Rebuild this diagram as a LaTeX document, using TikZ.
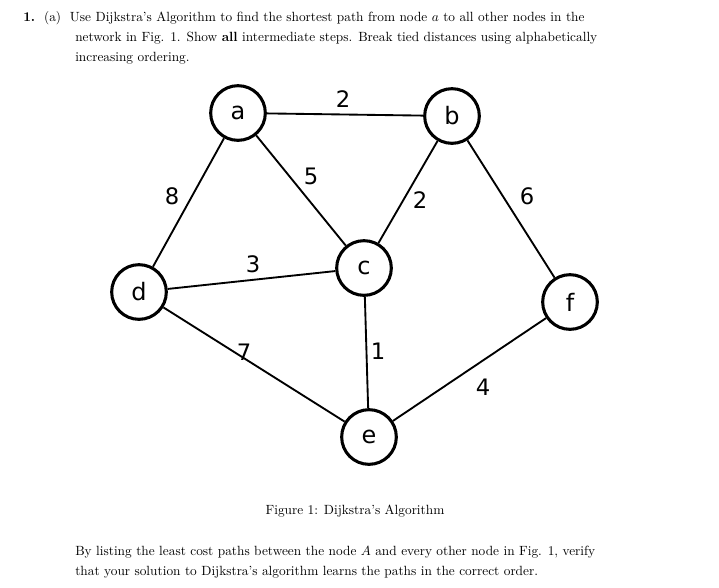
\documentclass[tikz,border=0pt]{standalone}
\usepackage{fontspec}
\newfontfamily\dv{DejaVu Sans}
\begin{document}
\begin{tikzpicture}[x=0.75pt,y=-0.75pt,
  vtx/.style={circle,draw,line width=2.3pt,minimum size=41pt,inner sep=0pt,font=\dv\fontsize{18}{18}\selectfont,fill=white},
  edge/.style={line width=1.4pt},
  wt/.style={font=\dv\fontsize{17}{17}\selectfont,inner sep=0pt},
  txt/.style={anchor=base west,inner sep=0pt,font=\fontsize{10}{12}\selectfont}]
\useasboundingbox (0,0) rectangle (719,587);
\node[txt] (t0) at (23,21) {\textbf{1.}\ \ (a)\ \ Use Dijkstra's Algorithm to find the shortest path from node $a$ to all other nodes in the};
\node[txt] (t1) at (75,41) {network in Fig. 1. Show \textbf{all} intermediate steps. Break tied distances using alphabetically};
\node[txt] (t2) at (75,61) {increasing ordering.};
\node[vtx] (a) at (238,113) {a};
\node[vtx] (b) at (452,116) {b};
\node[vtx] (c) at (364,268) {c};
\node[vtx] (d) at (139,292) {d};
\node[vtx] (e) at (369,437) {e};
\node[vtx] (f) at (570,302) {f};
\draw[edge] (a)--(b) (a)--(c) (a)--(d) (b)--(c) (b)--(f) (d)--(c) (d)--(e) (c)--(e) (e)--(f);
\node[wt] (w1) at (343,99) {2};
\node[wt] (w2) at (311,176) {5};
\node[wt] (w3) at (172,196) {8};
\node[wt] (w4) at (420,200) {2};
\node[wt] (w5) at (527,196) {6};
\node[wt] (w6) at (253,264) {3};
\node[wt] (w7) at (244,352) {7};
\node[wt] (w8) at (378,351) {1};
\node[wt] (w9) at (483,387) {4};
\node[font=\fontsize{10}{12}\selectfont] (cap) at (355,511) {Figure 1: Dijkstra's Algorithm};
\node[txt] (p1) at (75,555) {By listing the least cost paths between the node $A$ and every other node in Fig. 1, verify};
\node[txt] (p2) at (75,575) {that your solution to Dijkstra's algorithm learns the paths in the correct order.};
\end{tikzpicture}
\end{document}
